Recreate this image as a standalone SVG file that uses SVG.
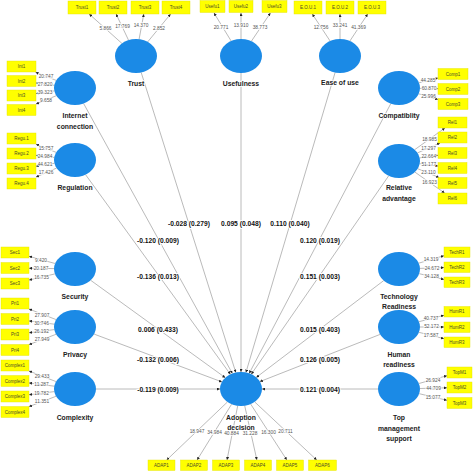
<svg xmlns="http://www.w3.org/2000/svg" width="474" height="474" viewBox="0 0 474 474">
<style>
.ln{stroke:#a8a8a8;stroke-width:0.8;fill:none;marker-end:url(#ah)}
.c{fill:#1b8ae6}
.lb{font-family:"Liberation Sans",Arial,sans-serif;font-weight:bold;font-size:6.8px;fill:#222;text-anchor:middle;dominant-baseline:central;stroke:#fff;stroke-width:1.6px;paint-order:stroke}
.cf{font-family:"Liberation Sans",Arial,sans-serif;font-weight:bold;font-size:6.7px;fill:#111;text-anchor:middle;dominant-baseline:central;stroke:#fff;stroke-width:2px;paint-order:stroke}
.n{font-family:"Liberation Sans",Arial,sans-serif;font-size:4.8px;fill:#555;text-anchor:middle;dominant-baseline:central;stroke:#fff;stroke-width:1.4px;paint-order:stroke}
.b{fill:#ffff00;stroke:#e2e200;stroke-width:0.4}
.bt{font-family:"Liberation Sans",Arial,sans-serif;font-size:4.5px;fill:#4a4a2a;text-anchor:middle;dominant-baseline:central}
</style>
<defs>
<marker id="ah" viewBox="0 0 6 6" refX="6" refY="3" markerWidth="3" markerHeight="3" markerUnits="userSpaceOnUse" orient="auto"><path d="M0,0L6,3L0,6z" fill="#222"/></marker>
</defs>
<rect width="474" height="474" fill="#fff"/>
<g id="connectors">
<path class="ln" d="M141.2,72.5L235.8,372.5"/>
<path class="ln" d="M241,73L241,372"/>
<path class="ln" d="M335.1,72.5L245.9,372.5"/>
<path class="ln" d="M83.6,103.5L232.4,373.5"/>
<path class="ln" d="M85.6,174.7L230.4,374.3"/>
<path class="ln" d="M90.7,280.3L225.3,377.7"/>
<path class="ln" d="M94.1,334.1L221.9,381.9"/>
<path class="ln" d="M96,389L220,389"/>
<path class="ln" d="M390.8,103.6L249.2,373.4"/>
<path class="ln" d="M388.7,175.8L251.3,374.2"/>
<path class="ln" d="M383.7,280.6L256.3,377.4"/>
<path class="ln" d="M380.1,334.4L259.9,381.6"/>
<path class="ln" d="M378,389L262,389"/>
<path class="ln" d="M121.9,43.4L89.2,14"/>
<path class="ln" d="M128.5,40.1L116.1,14"/>
<path class="ln" d="M139.1,39.2L143.8,14"/>
<path class="ln" d="M147.7,41.9L170.6,14"/>
<path class="ln" d="M231.2,41.1L214,13"/>
<path class="ln" d="M241,39L241,13"/>
<path class="ln" d="M251.4,41.2L270.4,13"/>
<path class="ln" d="M330.1,41L312.3,14"/>
<path class="ln" d="M340,39L340,14"/>
<path class="ln" d="M349.9,41L367.7,14"/>
<path class="ln" d="M56.2,80.4L35.5,72.2"/>
<path class="ln" d="M54.3,85.3L36,82.9"/>
<path class="ln" d="M54.3,90.9L36,93.5"/>
<path class="ln" d="M56.3,95.7L36,104"/>
<path class="ln" d="M56.2,152.4L36,144.2"/>
<path class="ln" d="M54.2,157.5L36,155.3"/>
<path class="ln" d="M54.4,163.3L36,166.2"/>
<path class="ln" d="M56.5,168.1L36,177.1"/>
<path class="ln" d="M55.1,263.5L29,256.3"/>
<path class="ln" d="M54,268.6L29,268.2"/>
<path class="ln" d="M54.9,273.9L29,280.1"/>
<path class="ln" d="M56.1,319.6L29,309"/>
<path class="ln" d="M54.3,324.2L29,320.9"/>
<path class="ln" d="M54.3,329.6L29,332.8"/>
<path class="ln" d="M56,334.3L29,344.6"/>
<path class="ln" d="M56.1,381.6L29,371"/>
<path class="ln" d="M54.3,386.2L29,382.9"/>
<path class="ln" d="M54.3,391.6L29,394.8"/>
<path class="ln" d="M56,396.3L29,406.6"/>
<path class="ln" d="M419,82.8L438,77.9"/>
<path class="ln" d="M420,88.4L438,88.7"/>
<path class="ln" d="M418.7,93.8L438,99.6"/>
<path class="ln" d="M414.7,149.7L444.9,128"/>
<path class="ln" d="M417.5,152.9L440,143"/>
<path class="ln" d="M419.7,157.9L438,155.2"/>
<path class="ln" d="M419.7,163.7L438,166.1"/>
<path class="ln" d="M417.7,168.7L439.1,177.5"/>
<path class="ln" d="M414.9,172.1L444.6,193"/>
<path class="ln" d="M418.7,263.2L444,255.7"/>
<path class="ln" d="M420,268.4L444,267.6"/>
<path class="ln" d="M419.2,273.7L444,279.4"/>
<path class="ln" d="M418.9,321.7L444,315.3"/>
<path class="ln" d="M420,327L444,327"/>
<path class="ln" d="M418.9,332.3L444,338.7"/>
<path class="ln" d="M418.9,383.5L447,375.7"/>
<path class="ln" d="M420,388.5L447,387.8"/>
<path class="ln" d="M419.2,393.7L447,400.3"/>
<path class="ln" d="M227.4,402L166.7,460"/>
<path class="ln" d="M231.6,404.2L197.1,460"/>
<path class="ln" d="M237.7,405.8L227,460"/>
<path class="ln" d="M244.7,405.7L256.9,460"/>
<path class="ln" d="M250.7,404.1L286.8,460"/>
<path class="ln" d="M254.7,401.9L316.7,460"/>
<text class="cf" x="189" y="223">-0.028 (0.279)</text>
<text class="cf" x="241" y="223">0.095 (0.048)</text>
<text class="cf" x="290" y="223">0.110 (0.040)</text>
<text class="cf" x="158" y="240">-0.120 (0.009)</text>
<text class="cf" x="158" y="276">-0.136 (0.013)</text>
<text class="cf" x="158" y="329">0.006 (0.433)</text>
<text class="cf" x="158" y="359">-0.132 (0.006)</text>
<text class="cf" x="158" y="389">-0.119 (0.009)</text>
<text class="cf" x="320" y="240">0.120 (0.019)</text>
<text class="cf" x="320" y="276">0.151 (0.003)</text>
<text class="cf" x="320" y="329">0.015 (0.403)</text>
<text class="cf" x="320" y="359">0.126 (0.005)</text>
<text class="cf" x="320" y="389">0.121 (0.004)</text>
<text class="n" x="105.5" y="28">5.866</text>
<text class="n" x="122.5" y="26.5">17.769</text>
<text class="n" x="141" y="25.5">14.370</text>
<text class="n" x="159" y="28">2.852</text>
<text class="n" x="221" y="27">20.771</text>
<text class="n" x="241" y="25.5">13.910</text>
<text class="n" x="260" y="27.5">38.773</text>
<text class="n" x="321" y="27.5">12.756</text>
<text class="n" x="340" y="25.5">33.241</text>
<text class="n" x="358.5" y="27.5">41.369</text>
<text class="n" x="46" y="76.5">20.747</text>
<text class="n" x="45" y="84">27.820</text>
<text class="n" x="45" y="92.5">39.323</text>
<text class="n" x="46" y="100.5">9.658</text>
<text class="n" x="46" y="148.5">15.757</text>
<text class="n" x="45" y="156.5">24.984</text>
<text class="n" x="45" y="164.5">44.621</text>
<text class="n" x="46" y="172.5">17.426</text>
<text class="n" x="41" y="260.5">9.420</text>
<text class="n" x="41" y="268.5">20.187</text>
<text class="n" x="41.5" y="277">16.735</text>
<text class="n" x="42" y="315">27.907</text>
<text class="n" x="41.5" y="323">30.746</text>
<text class="n" x="41.5" y="331">26.192</text>
<text class="n" x="42" y="339.5">27.949</text>
<text class="n" x="42" y="376.5">29.433</text>
<text class="n" x="41.5" y="384.5">11.287</text>
<text class="n" x="41.5" y="393">19.782</text>
<text class="n" x="42" y="401">11.351</text>
<text class="n" x="428" y="80.5">44.285</text>
<text class="n" x="429" y="88.5">60.870</text>
<text class="n" x="428.5" y="96.5">25.996</text>
<text class="n" x="429.5" y="139">18.985</text>
<text class="n" x="428.5" y="148">17.297</text>
<text class="n" x="428.8" y="156.3">22.664</text>
<text class="n" x="428.8" y="164.5">51.177</text>
<text class="n" x="428.5" y="172.5">23.110</text>
<text class="n" x="429.5" y="182.3">16.923</text>
<text class="n" x="431" y="259.8">14.319</text>
<text class="n" x="432" y="268">24.672</text>
<text class="n" x="431.5" y="276.3">34.128</text>
<text class="n" x="431" y="318.3">40.737</text>
<text class="n" x="431.5" y="326.8">52.172</text>
<text class="n" x="431" y="335.3">17.587</text>
<text class="n" x="433" y="380.5">26.924</text>
<text class="n" x="433.5" y="388">44.709</text>
<text class="n" x="433" y="397">15.077</text>
<text class="n" x="197" y="431.5">18.947</text>
<text class="n" x="214.5" y="432.5">34.984</text>
<text class="n" x="231.5" y="433">40.884</text>
<text class="n" x="250" y="433">31.228</text>
<text class="n" x="268.5" y="432.5">16.300</text>
<text class="n" x="285.5" y="431.5">20.711</text>
</g>
<g id="trust"><ellipse class="c" cx="136" cy="56" rx="21" ry="17"/><text class="lb" x="136" y="83">Trust</text></g>
<g id="usefulness"><ellipse class="c" cx="241" cy="56" rx="21" ry="17"/><text class="lb" x="241" y="83">Usefulness</text></g>
<g id="ease-of-use"><ellipse class="c" cx="340" cy="56" rx="21" ry="17"/><text class="lb" x="340" y="82">Ease of use</text></g>
<g id="internet-connection"><ellipse class="c" cx="75" cy="88" rx="21" ry="17"/><text class="lb" x="75" y="115">Internet</text><text class="lb" x="75" y="126">connection</text></g>
<g id="regulation"><ellipse class="c" cx="75" cy="160" rx="21" ry="17"/><text class="lb" x="75" y="187">Regulation</text></g>
<g id="security"><ellipse class="c" cx="75" cy="269" rx="21" ry="17"/><text class="lb" x="75" y="296">Security</text></g>
<g id="privacy"><ellipse class="c" cx="75" cy="327" rx="21" ry="17"/><text class="lb" x="75" y="354">Privacy</text></g>
<g id="complexity"><ellipse class="c" cx="75" cy="389" rx="21" ry="17"/><text class="lb" x="75" y="417">Complexity</text></g>
<g id="compatibility"><ellipse class="c" cx="399" cy="88" rx="21" ry="17"/><text class="lb" x="399" y="115">Compatiblity</text></g>
<g id="relative-advantage"><ellipse class="c" cx="399" cy="161" rx="21" ry="17"/><text class="lb" x="399" y="187">Relative</text><text class="lb" x="399" y="198">advantage</text></g>
<g id="technology-readiness"><ellipse class="c" cx="399" cy="269" rx="21" ry="17"/><text class="lb" x="399" y="296">Technology</text><text class="lb" x="399" y="306">Readiness</text></g>
<g id="human-readiness"><ellipse class="c" cx="399" cy="327" rx="21" ry="17"/><text class="lb" x="399" y="354">Human</text><text class="lb" x="399" y="364">readiness</text></g>
<g id="top-management-support"><ellipse class="c" cx="399" cy="389" rx="21" ry="17"/><text class="lb" x="399" y="417">Top</text><text class="lb" x="399" y="428">management</text><text class="lb" x="399" y="438">support</text></g>
<g id="adoption-decision"><ellipse class="c" cx="241" cy="389" rx="21" ry="17"/><text class="lb" x="241" y="417">Adoption</text><text class="lb" x="241" y="427">decision</text></g>
<g id="trust1"><rect class="b" x="68" y="1" width="28" height="13"/><text class="bt" x="82" y="7.5">Trust1</text></g>
<g id="trust2"><rect class="b" x="99" y="1" width="28" height="13"/><text class="bt" x="113" y="7.5">Trust2</text></g>
<g id="trust3"><rect class="b" x="131" y="1" width="28" height="13"/><text class="bt" x="145" y="7.5">Trust3</text></g>
<g id="trust4"><rect class="b" x="162" y="1" width="28" height="13"/><text class="bt" x="176" y="7.5">Trust4</text></g>
<g id="usefu1"><rect class="b" x="200" y="0.5" width="25" height="12"/><text class="bt" x="212.5" y="6.5">Usefu1</text></g>
<g id="usefu2"><rect class="b" x="229" y="0.5" width="24" height="12"/><text class="bt" x="241" y="6.5">Usefu2</text></g>
<g id="usefu3"><rect class="b" x="262" y="0.5" width="25" height="12"/><text class="bt" x="274.5" y="6.5">Usefu3</text></g>
<g id="eou1"><rect class="b" x="294" y="1" width="28" height="13"/><text class="bt" x="308" y="7.5">E.O.U.1</text></g>
<g id="eou2"><rect class="b" x="326" y="1" width="28" height="13"/><text class="bt" x="340" y="7.5">E.O.U.2</text></g>
<g id="eou3"><rect class="b" x="358" y="1" width="28" height="13"/><text class="bt" x="372" y="7.5">E.O.U.3</text></g>
<g id="int1"><rect class="b" x="7" y="61" width="29" height="11"/><text class="bt" x="21.5" y="66.5">Int1</text></g>
<g id="int2"><rect class="b" x="7" y="75.5" width="29" height="11"/><text class="bt" x="21.5" y="81">Int2</text></g>
<g id="int3"><rect class="b" x="7" y="90" width="29" height="11"/><text class="bt" x="21.5" y="95.5">Int3</text></g>
<g id="int4"><rect class="b" x="7" y="104.5" width="29" height="11"/><text class="bt" x="21.5" y="110">Int4</text></g>
<g id="regu1"><rect class="b" x="7" y="133" width="29" height="11"/><text class="bt" x="21.5" y="138.5">Regu.1</text></g>
<g id="regu2"><rect class="b" x="7" y="148" width="29" height="11"/><text class="bt" x="21.5" y="153.5">Regu.2</text></g>
<g id="regu3"><rect class="b" x="7" y="163" width="29" height="11"/><text class="bt" x="21.5" y="168.5">Regu.3</text></g>
<g id="regu4"><rect class="b" x="7" y="178" width="29" height="11"/><text class="bt" x="21.5" y="183.5">Regu.4</text></g>
<g id="sec1"><rect class="b" x="1" y="247" width="28" height="11"/><text class="bt" x="15" y="252.5">Sec1</text></g>
<g id="sec2"><rect class="b" x="1" y="262.5" width="28" height="11"/><text class="bt" x="15" y="268">Sec2</text></g>
<g id="sec3"><rect class="b" x="1" y="278" width="28" height="11"/><text class="bt" x="15" y="283.5">Sec3</text></g>
<g id="pri1"><rect class="b" x="1" y="298" width="28" height="11"/><text class="bt" x="15" y="303.5">Pri1</text></g>
<g id="pri2"><rect class="b" x="1" y="313.5" width="28" height="11"/><text class="bt" x="15" y="319">Pri2</text></g>
<g id="pri3"><rect class="b" x="1" y="329" width="28" height="11"/><text class="bt" x="15" y="334.5">Pri3</text></g>
<g id="pri4"><rect class="b" x="1" y="344.5" width="28" height="11"/><text class="bt" x="15" y="350">Pri4</text></g>
<g id="complex1"><rect class="b" x="1" y="360" width="28" height="11"/><text class="bt" x="15" y="365.5">Complex1</text></g>
<g id="complex2"><rect class="b" x="1" y="375.5" width="28" height="11"/><text class="bt" x="15" y="381">Complex2</text></g>
<g id="complex3"><rect class="b" x="1" y="391" width="28" height="11"/><text class="bt" x="15" y="396.5">Complex3</text></g>
<g id="complex4"><rect class="b" x="1" y="406.5" width="28" height="11"/><text class="bt" x="15" y="412">Complex4</text></g>
<g id="comp1"><rect class="b" x="438" y="68.5" width="30" height="11"/><text class="bt" x="453" y="74">Comp1</text></g>
<g id="comp2"><rect class="b" x="438" y="83.5" width="30" height="11"/><text class="bt" x="453" y="89">Comp2</text></g>
<g id="comp3"><rect class="b" x="438" y="98.5" width="30" height="11"/><text class="bt" x="453" y="104">Comp3</text></g>
<g id="rel1"><rect class="b" x="438" y="117" width="29" height="11"/><text class="bt" x="452.5" y="122.5">Rel1</text></g>
<g id="rel2"><rect class="b" x="438" y="132" width="29" height="11"/><text class="bt" x="452.5" y="137.5">Rel2</text></g>
<g id="rel3"><rect class="b" x="438" y="147.5" width="29" height="11"/><text class="bt" x="452.5" y="153">Rel3</text></g>
<g id="rel4"><rect class="b" x="438" y="162.5" width="29" height="11"/><text class="bt" x="452.5" y="168">Rel4</text></g>
<g id="rel5"><rect class="b" x="438" y="177.5" width="29" height="11"/><text class="bt" x="452.5" y="183">Rel5</text></g>
<g id="rel6"><rect class="b" x="438" y="193" width="29" height="11"/><text class="bt" x="452.5" y="198.5">Rel6</text></g>
<g id="techr1"><rect class="b" x="444" y="247" width="26" height="10.5"/><text class="bt" x="457" y="252.2">TechR1</text></g>
<g id="techr2"><rect class="b" x="444" y="262" width="26" height="10.5"/><text class="bt" x="457" y="267.2">TechR2</text></g>
<g id="techr3"><rect class="b" x="444" y="277" width="26" height="10.5"/><text class="bt" x="457" y="282.2">TechR3</text></g>
<g id="humr1"><rect class="b" x="444" y="306.5" width="26" height="10.5"/><text class="bt" x="457" y="311.7">HumR1</text></g>
<g id="humr2"><rect class="b" x="444" y="322" width="26" height="10.5"/><text class="bt" x="457" y="327.2">HumR2</text></g>
<g id="humr3"><rect class="b" x="444" y="337" width="26" height="10.5"/><text class="bt" x="457" y="342.2">HumR3</text></g>
<g id="topm1"><rect class="b" x="447" y="367" width="25" height="11"/><text class="bt" x="459.5" y="372.5">TopM1</text></g>
<g id="topm2"><rect class="b" x="447" y="382" width="25" height="11"/><text class="bt" x="459.5" y="387.5">TopM2</text></g>
<g id="topm3"><rect class="b" x="447" y="397.5" width="25" height="11"/><text class="bt" x="459.5" y="403">TopM3</text></g>
<g id="adap1"><rect class="b" x="148" y="460" width="27" height="10.5"/><text class="bt" x="161.5" y="465.2">ADAP1</text></g>
<g id="adap2"><rect class="b" x="180.5" y="460" width="27" height="10.5"/><text class="bt" x="194" y="465.2">ADAP2</text></g>
<g id="adap3"><rect class="b" x="212.5" y="460" width="27" height="10.5"/><text class="bt" x="226" y="465.2">ADAP3</text></g>
<g id="adap4"><rect class="b" x="244.5" y="460" width="27" height="10.5"/><text class="bt" x="258" y="465.2">ADAP4</text></g>
<g id="adap5"><rect class="b" x="276.5" y="460" width="27" height="10.5"/><text class="bt" x="290" y="465.2">ADAP5</text></g>
<g id="adap6"><rect class="b" x="308.5" y="460" width="28" height="10.5"/><text class="bt" x="322.5" y="465.2">ADAP6</text></g>
</svg>
